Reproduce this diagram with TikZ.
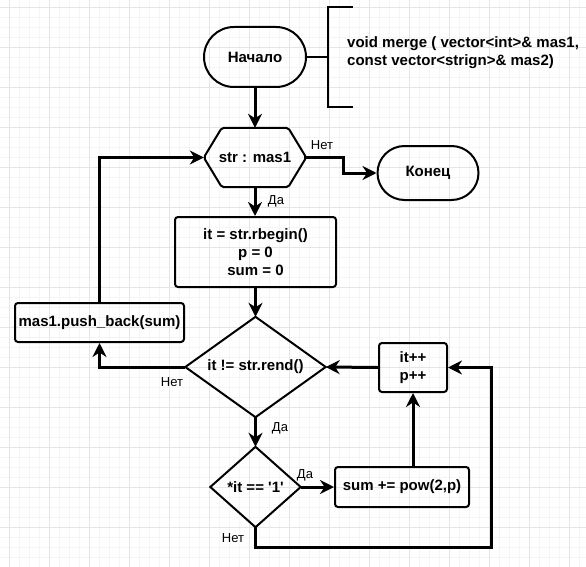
\documentclass[tikz,border=0pt]{standalone}
\usepackage{fontspec}
\setmainfont{Liberation Sans}
\usetikzlibrary{arrows.meta}
\begin{document}
\begin{tikzpicture}[x=1pt,y=-1pt,
  lbl/.style={font=\fontsize{13}{15}\selectfont, text=black, inner sep=0pt},
  txt/.style={font=\bfseries\fontsize{15}{18.3}\selectfont, align=center, text=black},
  boxn/.style={draw, line width=2pt, rounded corners=3pt, txt, inner sep=0pt},
  termn/.style={draw, line width=2pt, txt, inner sep=0pt},
  shapeline/.style={line width=2pt},
  conn/.style={line width=3pt, -{Stealth[length=14pt,width=14pt,inset=4.5pt]}},
  minorgrid/.style={line width=0.6pt, black!4},
  majorgrid/.style={line width=0.8pt, black!10},
]
\useasboundingbox (0,0) rectangle (586,567);
\fill[white] (0,0) rectangle (586,567);
\foreach \x in {-1,9,...,589} \draw[minorgrid] (\x,0) -- (\x,567);
\foreach \y in {-3,7,...,567} \draw[minorgrid] (0,\y) -- (586,\y);
\foreach \x in {9,49,...,589} \draw[majorgrid] (\x,0) -- (\x,567);
\foreach \y in {7,47,...,567} \draw[majorgrid] (0,\y) -- (586,\y);

% nodes
\node[termn, minimum width=102pt, minimum height=60pt, rounded corners=30pt] (start) at (255,57) {Начало};
\node[termn, minimum width=101pt, minimum height=54pt, rounded corners=27pt] (end) at (428,173) {Конец};

\node[txt, minimum width=102pt, minimum height=59pt, inner sep=0pt] (loop) at (255,157.5) {str : mas1};
\draw[shapeline, rounded corners=2pt] (loop.west) -- ([xshift=18pt]loop.north west) -- ([xshift=-18pt]loop.north east) -- (loop.east) -- ([xshift=-18pt]loop.south east) -- ([xshift=18pt]loop.south west) -- cycle;

\node[boxn, minimum width=161pt, minimum height=70pt] (init) at (255.5,252) {it = str.rbegin()\\p = 0\\sum = 0};

\node[txt, minimum width=140pt, minimum height=100pt, inner sep=0pt] (cond) at (255.5,367) {it != str.rend()};
\draw[shapeline] (cond.north) -- (cond.east) -- (cond.south) -- (cond.west) -- cycle;

\node[txt, minimum width=90pt, minimum height=80pt, inner sep=0pt] (bit) at (255.5,487) {*it == \textquotesingle1\textquotesingle};
\draw[shapeline] (bit.north) -- (bit.east) -- (bit.south) -- (bit.west) -- cycle;

\node[boxn, minimum width=169pt, minimum height=39pt] (push) at (99.5,322.5) {mas1.push\_back(sum)};
\node[boxn, minimum width=68pt, minimum height=49pt] (inc) at (413,367.5) {it++\\p++};
\node[boxn, minimum width=134pt, minimum height=40pt] (add) at (402,487) {sum += pow(2,p)};

\node[txt, align=left, anchor=west, inner sep=0pt] (sig) at (347,52.5) {void merge ( vector<int>\& mas1,\\const vector<strign>\& mas2)};

% bracket annotation
\coordinate (btr) at (353,7);
\coordinate (btl) at (328,7);
\coordinate (bbl) at (328,107);
\coordinate (bbr) at (353,107);
\coordinate (bmid) at (328,57);
\draw[shapeline] (btr) -- (btl) -- (bbl) -- (bbr);
\draw[shapeline] (start.east) -- (bmid);

% connectors
\coordinate (jog) at (343,157.5);
\coordinate (rb) at (491,547);
\draw[conn] (start.south) -- (loop.north);
\draw[conn] (loop.east) -- (jog) |- (end.west);
\draw[conn] (loop.south) -- (init.north -| loop.south);
\draw[conn] (init.south) -- (cond.north);
\draw[conn] (cond.south) -- (bit.north);
\draw[conn] (bit.east) -- (add.west);
\draw[conn] (inc.south |- add.north) -- (inc.south);
\draw[conn] (inc.west) -- (cond.east);
\draw[conn] (bit.south) |- (rb) |- (inc.east);
\draw[conn] (cond.west) -| (push.south);
\draw[conn] (push.north) |- (loop.west);

% labels
\node[lbl] (l1) at (322,145) {Нет};
\node[lbl] (l2) at (276,201) {Да};
\node[lbl] (l3) at (172,382) {Нет};
\node[lbl] (l4) at (280,428) {Да};
\node[lbl] (l5) at (305,475) {Да};
\node[lbl] (l6) at (233,538) {Нет};
\end{tikzpicture}
\end{document}
